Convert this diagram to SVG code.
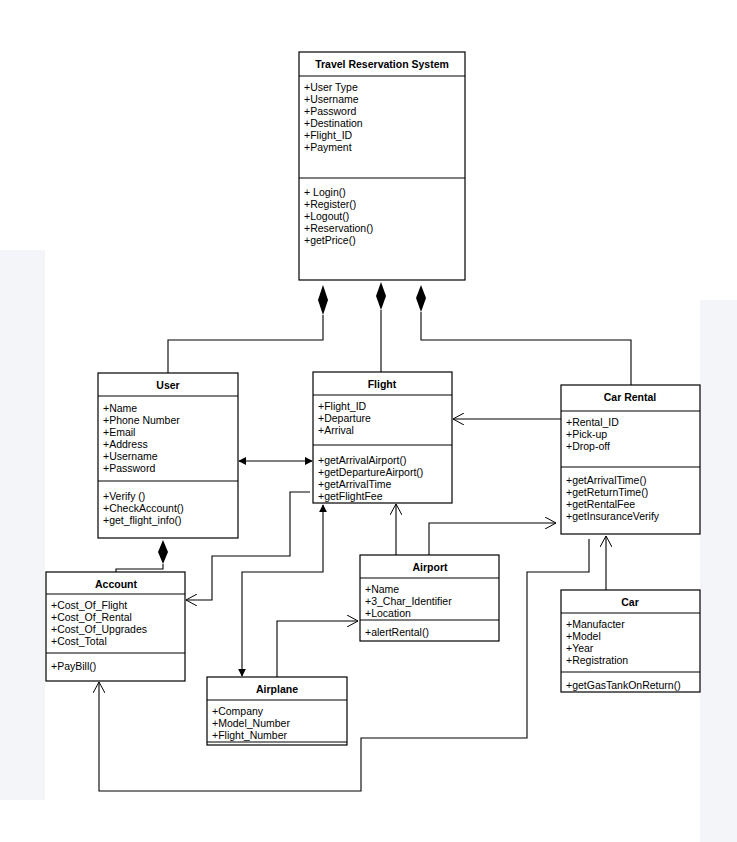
<svg xmlns="http://www.w3.org/2000/svg" width="737" height="842" viewBox="0 0 737 842">
<style>
.box{fill:#fff;stroke:#000;stroke-width:1.2}
.ln{stroke:#000;stroke-width:1.1;fill:none}
text{font-family:"Liberation Sans",Arial,sans-serif;font-size:10.5px;fill:#000}
.t{font-weight:bold;font-size:10.5px;text-anchor:middle}
.c{fill:none;stroke:#000;stroke-width:1.1}
</style>
<defs>
<marker id="open" viewBox="0 0 12 12" refX="11" refY="6" markerWidth="12" markerHeight="12" markerUnits="userSpaceOnUse" orient="auto"><path d="M0,0 L11,6 L0,12" fill="none" stroke="#000" stroke-width="1"/></marker>
<marker id="fill" viewBox="0 0 10 10" refX="9" refY="5" markerWidth="8" markerHeight="8" markerUnits="userSpaceOnUse" orient="auto"><path d="M0,0 L10,5 L0,10 Z" fill="#000"/></marker>
<marker id="fills" viewBox="0 0 10 10" refX="1" refY="5" markerWidth="8" markerHeight="8" markerUnits="userSpaceOnUse" orient="auto"><path d="M10,0 L0,5 L10,10 Z" fill="#000"/></marker>
</defs>
<rect width="737" height="842" fill="#fff"/>
<path d="M0,250 L45,250 L45,800 L0,800 Z" fill="#f4f5f9"/>
<path d="M700,300 L737,300 L737,842 L700,842 Z" fill="#f4f5f9"/>
<g id="connectors">
<path class="c" d="M323,315 V340 H168 V373"/>
<path d="M323,285 L328,300 L323,315 L318,300 Z" fill="#000"/>
<path class="c" d="M381,310 V372"/>
<path d="M381,282 L386,296 L381,310 L376,296 Z" fill="#000"/>
<path class="c" d="M421,312 V340 H631 V385"/>
<path d="M421,285 L426,298 L421,312 L416,298 Z" fill="#000"/>
<path d="M163,540 L168,552 L163,564 L158,552 Z" fill="#000"/>
<path class="c" d="M163,564 V569 H116 V572"/>
<path class="c" d="M239,461 H312" marker-start="url(#fills)" marker-end="url(#fill)"/>
<path class="c" d="M561,419 H453" marker-end="url(#open)"/>
<path class="c" d="M310,492 H290 V556 H212 V600 H186" marker-end="url(#open)"/>
<path class="c" d="M323,505 V572 H242 V676" marker-start="url(#fills)" marker-end="url(#fill)"/>
<path class="c" d="M396,555 V504" marker-end="url(#open)"/>
<path class="c" d="M429,555 V523 H556" marker-end="url(#open)"/>
<path class="c" d="M277,677 V621 H358" marker-end="url(#open)"/>
<path class="c" d="M606,590 V536" marker-end="url(#open)"/>
<path class="c" d="M589,539 V572 H527 V738 H361 V791 H99 V682" marker-end="url(#open)"/>
</g>
<g id="trs">
<rect class="box" x="299" y="52" width="166" height="228"/>
<path class="ln" d="M299,76 H465 M299,178 H465"/>
<text class="t" x="382" y="68">Travel Reservation System</text>
<text x="304" y="91">+User Type</text><text x="304" y="103">+Username</text><text x="304" y="115">+Password</text><text x="304" y="127">+Destination</text><text x="304" y="139">+Flight_ID</text><text x="304" y="151">+Payment</text>
<text x="304" y="196">+ Login()</text><text x="304" y="208">+Register()</text><text x="304" y="220">+Logout()</text><text x="304" y="232">+Reservation()</text><text x="304" y="244">+getPrice()</text>
</g>
<g id="user">
<rect class="box" x="98" y="373" width="140" height="165"/>
<path class="ln" d="M98,396 H238 M98,481 H238"/>
<text class="t" x="168" y="389">User</text>
<text x="103" y="412">+Name</text><text x="103" y="424">+Phone Number</text><text x="103" y="436">+Email</text><text x="103" y="448">+Address</text><text x="103" y="460">+Username</text><text x="103" y="472">+Password</text>
<text x="103" y="500">+Verify ()</text><text x="103" y="512">+CheckAccount()</text><text x="103" y="524">+get_flight_info()</text>
</g>
<g id="flight">
<rect class="box" x="313" y="372" width="139" height="131"/>
<path class="ln" d="M313,395 H452 M313,445 H452"/>
<text class="t" x="382" y="388">Flight</text>
<text x="318" y="410">+Flight_ID</text><text x="318" y="422">+Departure</text><text x="318" y="434">+Arrival</text>
<text x="318" y="464">+getArrivalAirport()</text><text x="318" y="476">+getDepartureAirport()</text><text x="318" y="488">+getArrivalTime</text><text x="318" y="500">+getFlightFee</text>
</g>
<g id="carrental">
<rect class="box" x="561" y="385" width="139" height="149"/>
<path class="ln" d="M561,411 H700 M561,467 H700"/>
<text class="t" x="630" y="401">Car Rental</text>
<text x="566" y="426">+Rental_ID</text><text x="566" y="438">+Pick-up</text><text x="566" y="450">+Drop-off</text>
<text x="566" y="484">+getArrivalTime()</text><text x="566" y="496">+getReturnTime()</text><text x="566" y="508">+getRentalFee</text><text x="566" y="520">+getInsuranceVerify</text>
</g>
<g id="account">
<rect class="box" x="46" y="572" width="139" height="109"/>
<path class="ln" d="M46,594 H185 M46,653 H185"/>
<text class="t" x="116" y="588">Account</text>
<text x="51" y="609">+Cost_Of_Flight</text><text x="51" y="621">+Cost_Of_Rental</text><text x="51" y="633">+Cost_Of_Upgrades</text><text x="51" y="645">+Cost_Total</text>
<text x="51" y="670">+PayBill()</text>
</g>
<g id="airport">
<rect class="box" x="360" y="555" width="139" height="86"/>
<path class="ln" d="M360,578 H499 M360,620 H499"/>
<text class="t" x="430" y="571">Airport</text>
<text x="365" y="593">+Name</text><text x="365" y="605">+3_Char_Identifier</text><text x="365" y="617">+Location</text>
<text x="365" y="636">+alertRental()</text>
</g>
<g id="car">
<rect class="box" x="561" y="590" width="139" height="102"/>
<path class="ln" d="M561,613 H700 M561,672 H700"/>
<text class="t" x="630" y="606">Car</text>
<text x="566" y="628">+Manufacter</text><text x="566" y="640">+Model</text><text x="566" y="652">+Year</text><text x="566" y="664">+Registration</text>
<text x="566" y="689">+getGasTankOnReturn()</text>
</g>
<g id="airplane">
<rect class="box" x="207" y="677" width="140" height="68"/>
<path class="ln" d="M207,700 H347 M207,742 H347"/>
<text class="t" x="277" y="693">Airplane</text>
<text x="212" y="715">+Company</text><text x="212" y="727">+Model_Number</text><text x="212" y="739">+Flight_Number</text>
</g>
</svg>
